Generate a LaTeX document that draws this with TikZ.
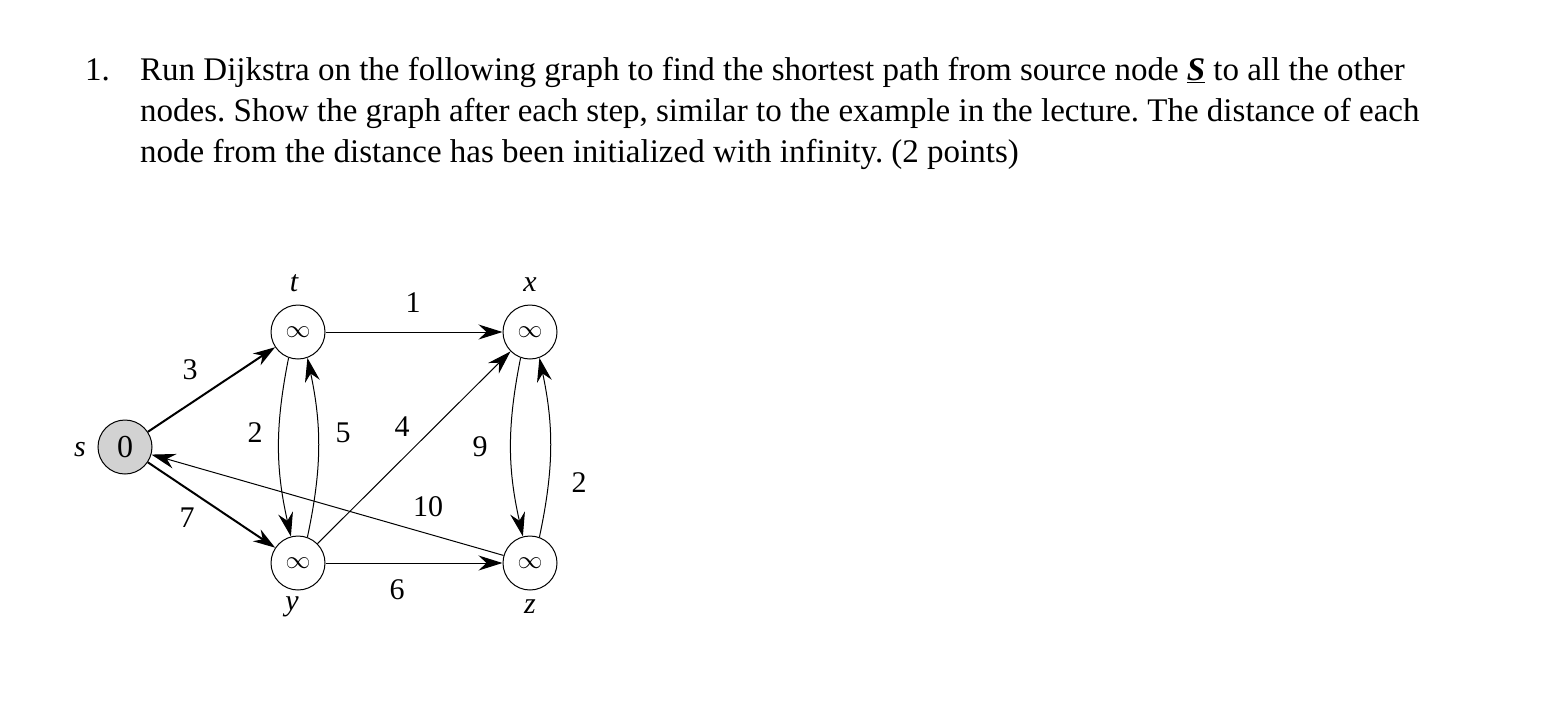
\documentclass[tikz,border=0pt]{standalone}
\usepackage{fontspec}
\setmainfont{Liberation Serif}
\usetikzlibrary{arrows.meta}
\begin{document}
\frenchspacing
\begin{tikzpicture}[x=1pt,y=-1pt,
  vert/.style={circle,draw,line width=1pt,minimum size=54pt,inner sep=0pt,font=\fontsize{24}{24}\selectfont},
  lab/.style={font=\fontsize{30}{30}\selectfont,inner sep=0pt},
  nm/.style={font=\fontsize{30}{30}\selectfont\itshape,inner sep=0pt},
  para/.style={font=\fontsize{33}{41}\selectfont,inner sep=0pt,anchor=base west},
  ed/.style={line width=1pt,-{Stealth[length=24pt,width=15pt,inset=8pt]}},
  edb/.style={line width=2pt,-{Stealth[length=22pt,width=14pt,inset=7pt]}}]
\useasboundingbox (0,0) rectangle (1564,702);
\node[para] (num) at (85,80) {1.};
\node[para] (l1) at (140,80) {Run Dijkstra on the following graph to find the shortest path from source node \underline{\textbf{\textit{S}}} to all the other};
\node[para] (l2) at (140,121) {nodes. Show the graph after each step, similar to the example in the lecture. The distance of each};
\node[para] (l3) at (140,162) {node from the distance has been initialized with infinity. (2 points)};
\node[vert,fill=gray!35,font=\fontsize{32}{32}\selectfont] (s) at (125,447) {0};
\node[vert] (t) at (298,332) {$\infty$};
\node[vert] (x) at (530,332) {$\infty$};
\node[vert] (y) at (298,563) {$\infty$};
\node[vert] (z) at (530,563) {$\infty$};
\node[nm] (ls) at (80,450) {s};
\node[nm] (lt) at (294,283) {t};
\node[nm] (lx) at (530,285) {x};
\node[nm] (ly) at (292,607) {y};
\node[nm] (lz) at (530,607) {z};
\draw[edb] (s) -- (t);
\draw[edb] (s) -- (y);
\draw[ed] (t) -- (x);
\draw[ed] (y) -- (z);
\draw[ed] (y) -- (x);
\draw[ed] (z) -- (s);
\draw[ed] (t.250) to[bend right=12] (y.105);
\draw[ed] (y.70) to[bend right=12] (t.290);
\draw[ed] (x.250) to[bend right=12] (z.105);
\draw[ed] (z.70) to[bend right=12] (x.290);
\node[lab] (w3) at (190,370) {3};
\node[lab] (w7) at (187,518) {7};
\node[lab] (w1) at (413,303) {1};
\node[lab] (w2a) at (255,433) {2};
\node[lab] (w5) at (343,433) {5};
\node[lab] (w4) at (402,427) {4};
\node[lab] (w9) at (480,447) {9};
\node[lab] (w2b) at (579,483) {2};
\node[lab] (w10) at (428,507) {10};
\node[lab] (w6) at (397,590) {6};
\end{tikzpicture}
\end{document}
